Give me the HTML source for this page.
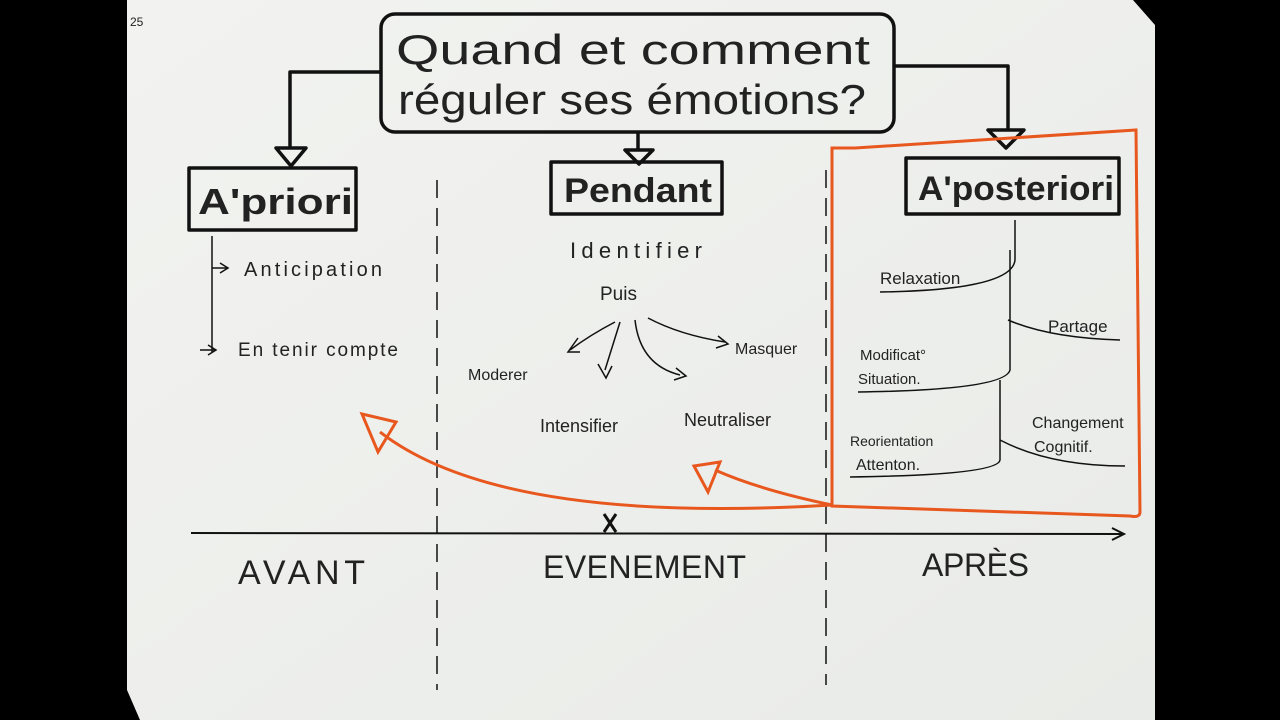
<!DOCTYPE html>
<html><head><meta charset="utf-8"><style>
html,body{margin:0;padding:0;background:#000;width:1280px;height:720px;overflow:hidden}
svg{display:block}
text{font-family:"Liberation Sans",sans-serif;fill:#222}
</style></head><body>
<svg width="1280" height="720" viewBox="0 0 1280 720">
<defs><linearGradient id="p" x1="0" y1="0" x2="1" y2="1"><stop offset="0" stop-color="#f2f3f0"/><stop offset="1" stop-color="#e9ebe8"/></linearGradient></defs>
<rect x="0" y="0" width="1280" height="720" fill="#000"/>
<rect x="127" y="0" width="1028" height="720" fill="url(#p)"/>
<polygon points="1133,0 1155,0 1155,25" fill="#000"/>
<polygon points="127,690 140,720 127,720" fill="#000"/>
<g fill="none" stroke="#111" stroke-width="3.5" stroke-linejoin="round">
<rect x="381" y="14" width="513" height="118" rx="14"/>
<path d="M381,72 H290 V148"/><path d="M276,148 h30 l-15,18 z"/>
<path d="M638,132 V150"/><path d="M625,150 h28 l-14,14 z"/>
<path d="M894,66 H1008 V130"/><path d="M988,130 h36 l-18,18 z"/>
<rect x="189" y="168" width="167" height="62"/>
<rect x="551" y="162" width="171" height="52"/>
<rect x="906" y="158" width="213" height="56"/>
</g>
<g fill="none" stroke="#111" stroke-width="2">
<path d="M191,533 L1122,534"/><path d="M1112,528 l12,6 -12,6"/>
<path d="M604,514 l12,18 M616,514 l-12,18" stroke-width="3"/>
<path d="M437,180 V690" stroke-dasharray="18,10" stroke-width="1.5"/>
<path d="M826,170 V685" stroke-dasharray="18,10" stroke-width="1.5"/>
<path d="M212,236 V352 M212,268 h16 M200,350 h16" stroke-width="1.5"/>
<path d="M220,263 l8,5 -8,5 M208,345 l8,5 -8,5" stroke-width="1.5"/>
<path d="M1015,220 V260 Q1012,290 880,292 M1010,250 V370 Q1005,390 858,392 M1008,320 Q1050,338 1120,340 M1000,380 V460 Q998,475 850,477 M1000,440 Q1050,466 1125,466" stroke-width="1.5"/>
<path d="M615,322 Q590,335 570,350 M620,322 L605,370 M635,320 Q640,365 680,375 M648,318 Q680,335 725,342" stroke-width="1.5"/>
<path d="M578,338 l-10,14 12,0 M598,364 l8,14 6,-12 M676,368 l10,8 -12,4 M718,336 l10,8 -12,4" stroke-width="1.5"/>
</g>
<g fill="none" stroke="#e8581e" stroke-width="3">
<path d="M855,148 L1136,130 L1140,512 Q1140,518 1130,516 L832,506 L832,148 Z"/>
<path d="M832,505 Q500,525 380,432"/><path d="M362,414 L396,422 L378,452 Z"/>
<path d="M832,505 Q760,490 715,470"/><path d="M694,466 L720,462 L708,492 Z"/>
</g>
<text x="396" y="64" font-size="42" textLength="474" lengthAdjust="spacingAndGlyphs">Quand et comment</text>
<text x="398" y="114" font-size="42" textLength="468" lengthAdjust="spacingAndGlyphs">réguler ses émotions?</text>
<text x="198" y="214" font-size="36" font-weight="bold" textLength="155" lengthAdjust="spacingAndGlyphs">A'priori</text>
<text x="564" y="202" font-size="34" font-weight="bold" textLength="148" lengthAdjust="spacingAndGlyphs">Pendant</text>
<text x="918" y="200" font-size="34" font-weight="bold" textLength="196" lengthAdjust="spacingAndGlyphs">A'posteriori</text>
<text x="244" y="276" font-size="20" textLength="138">Anticipation</text>
<text x="238" y="356" font-size="19" textLength="160">En tenir compte</text>
<text x="570" y="258" font-size="22" textLength="132">Identifier</text>
<text x="600" y="300" font-size="19">Puis</text>
<text x="468" y="380" font-size="16">Moderer</text>
<text x="735" y="354" font-size="16">Masquer</text>
<text x="540" y="432" font-size="18">Intensifier</text>
<text x="684" y="426" font-size="18">Neutraliser</text>
<text x="880" y="284" font-size="17">Relaxation</text>
<text x="1048" y="332" font-size="17">Partage</text>
<text x="860" y="360" font-size="15">Modificat°</text>
<text x="858" y="384" font-size="15">Situation.</text>
<text x="850" y="446" font-size="14">Reorientation</text>
<text x="856" y="470" font-size="16">Attenton.</text>
<text x="1032" y="428" font-size="16">Changement</text>
<text x="1034" y="452" font-size="16">Cognitif.</text>
<text x="238" y="584" font-size="34" letter-spacing="3" textLength="130">AVANT</text>
<text x="543" y="578" font-size="32" letter-spacing="2" textLength="205">EVENEMENT</text>
<text x="922" y="576" font-size="32" letter-spacing="3" textLength="110">APRÈS</text>
<text x="130" y="26" font-size="12" fill="#555">25</text>
</svg>
</body></html>
